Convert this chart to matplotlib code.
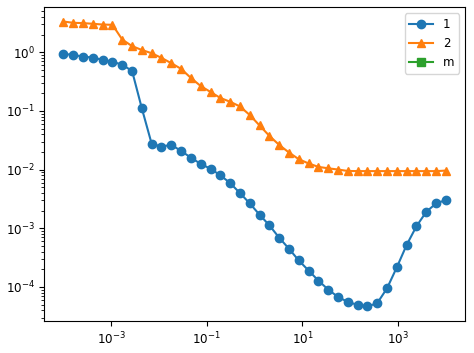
import numpy as np
import matplotlib
matplotlib.use("Agg")
import matplotlib.pyplot as plt
from matplotlib.ticker import FixedLocator, NullLocator

x = np.logspace(-4, 4, 40)

series1 = [0.935, 0.90, 0.84, 0.81, 0.74, 0.69, 0.61, 0.48, 0.110, 0.0274,
           0.0247, 0.0263, 0.0208, 0.0159, 0.0125, 0.0103, 0.0080, 0.00588, 0.00398, 0.00265,
           0.0017, 0.00112, 0.00069, 0.000447, 0.000282, 0.00019, 0.000128, 0.00009, 0.0000675, 0.0000554,
           0.0000494, 0.0000464, 0.0000528, 0.0000946, 0.000216, 0.000519, 0.00108, 0.0019, 0.00265, 0.00302]

series2 = [3.33, 3.17, 3.13, 3.05, 2.96, 2.93, 1.64, 1.27, 1.09, 0.96,
           0.80, 0.65, 0.52, 0.364, 0.265, 0.21, 0.166, 0.143, 0.119, 0.085,
           0.0565, 0.0375, 0.0263, 0.0195, 0.015, 0.0127, 0.0111, 0.0105, 0.0100, 0.00946,
           0.0094, 0.0094, 0.0094, 0.0094, 0.0094, 0.0094, 0.0094, 0.0094, 0.0094, 0.0096]

series_m_x = []
series_m_y = []

labels = ["1", "2", "m"]
xticks = [1e-3, 1e-1, 1e1, 1e3]

plt.rcParams["font.size"] = 8.6

fig = plt.figure(figsize=(4.74, 3.53), dpi=100)
ax = fig.add_axes([44.3 / 474, 1 - 320.7 / 353, (465 - 44.3) / 474, (320.7 - 7.3) / 353])
ax.plot(x, series1, marker="o", label=labels[0])
ax.plot(x, series2, marker="^", label=labels[1])
ax.plot(series_m_x, series_m_y, marker="s", label=labels[2])
ax.set_xscale("log")
ax.set_yscale("log")
ax.xaxis.set_major_locator(FixedLocator(xticks))
ax.xaxis.set_minor_locator(NullLocator())
ax.legend(loc="upper right")
fig.savefig("out.png", dpi=100)
